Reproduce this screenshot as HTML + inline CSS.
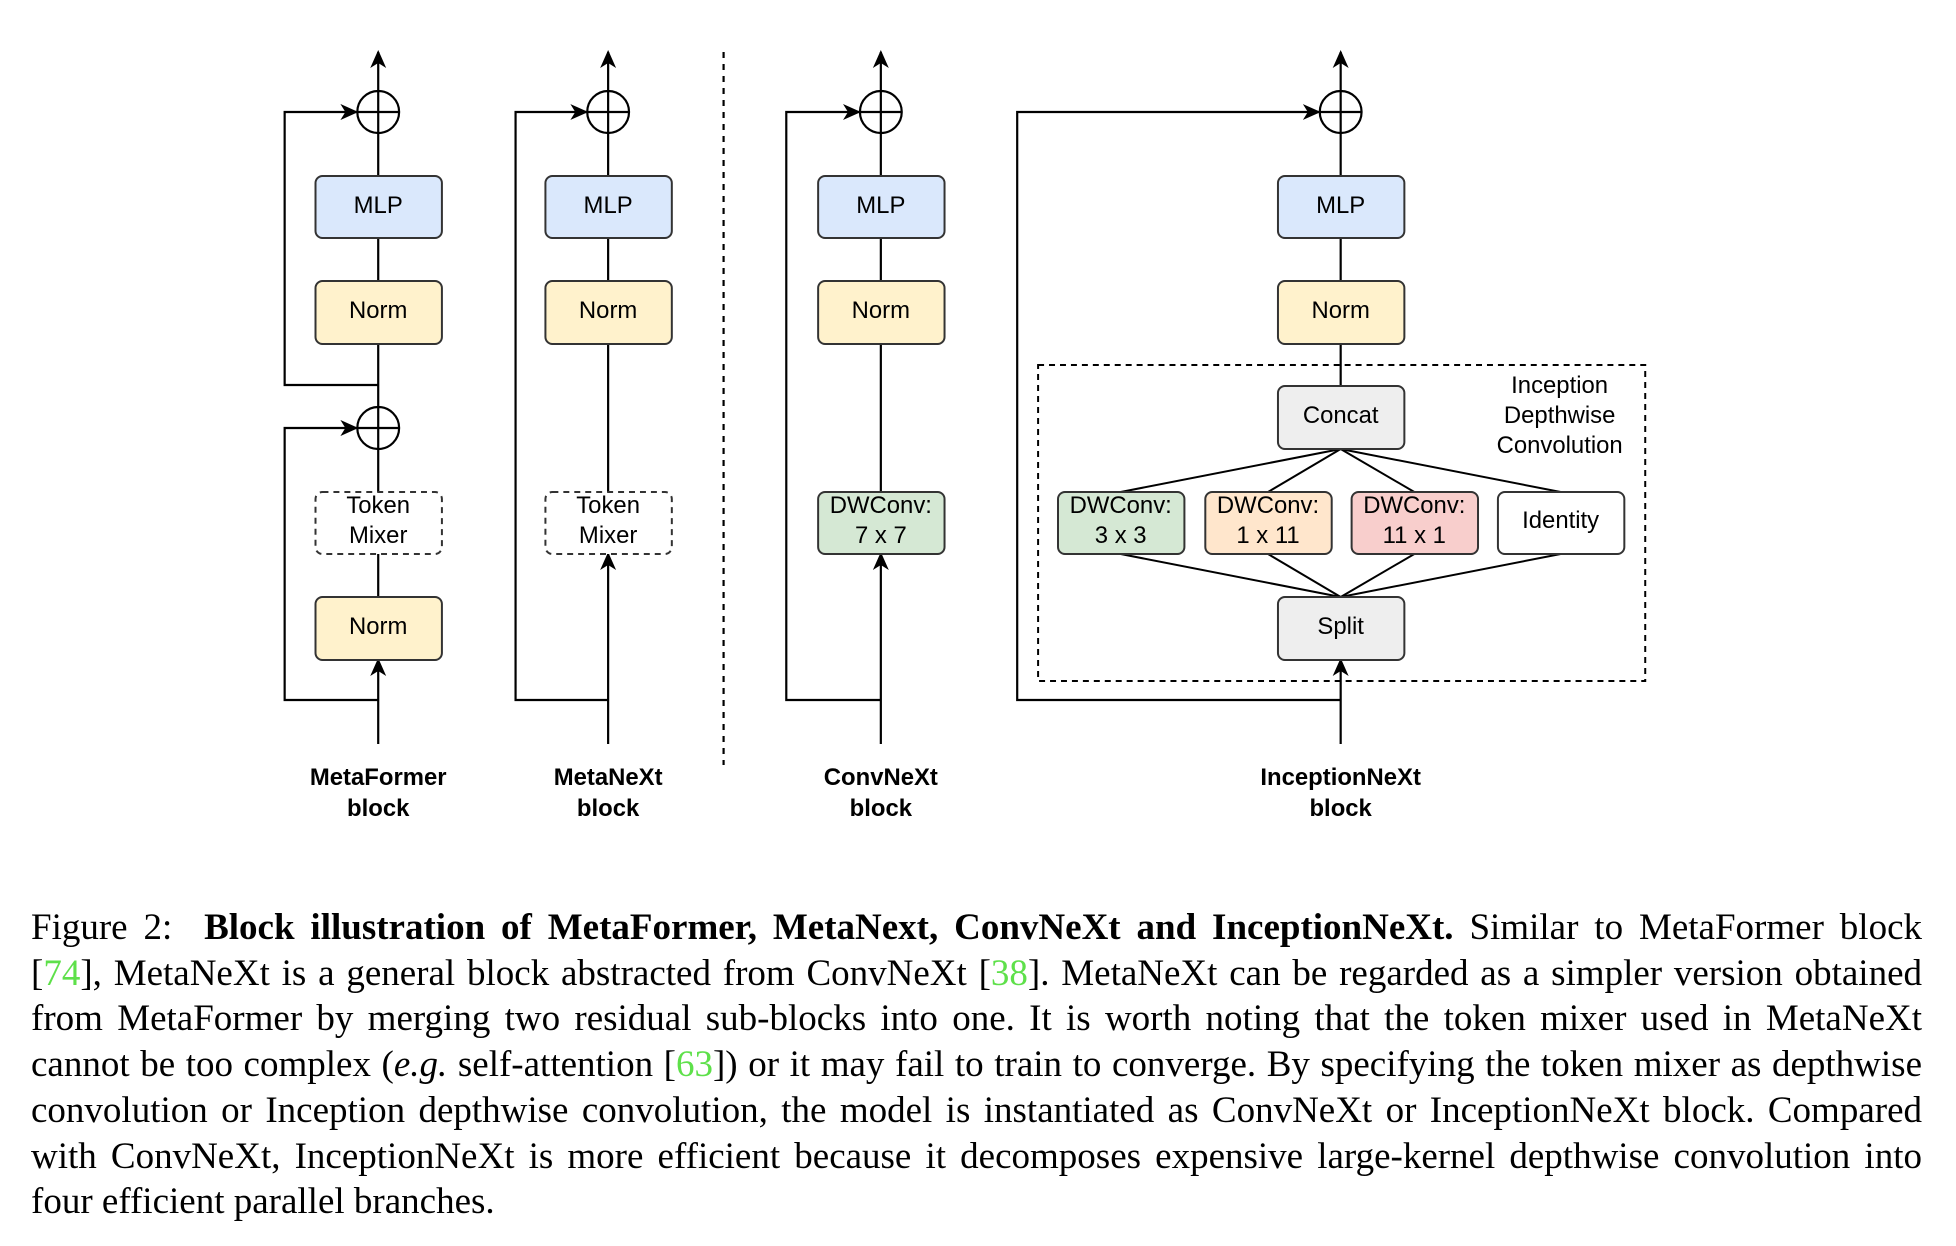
<!DOCTYPE html>
<html><head><meta charset="utf-8"><style>
body{margin:0;width:1956px;height:1246px;background:#fff;position:relative;overflow:hidden}
svg{position:absolute;left:0;top:0}
.cap{position:absolute;left:31px;top:905px;width:1891px;font-family:"Liberation Serif",serif;font-size:37px;line-height:45.7px;color:#000}
.cap div{text-align:justify;text-align-last:justify;white-space:nowrap;overflow:visible}
.cap div.l{text-align-last:left}
.g{color:#5ee04a}
</style></head><body>
<svg width="1956" height="900" viewBox="0 0 1956 900" font-family="Liberation Sans, sans-serif">
<defs>
<marker id="b" markerWidth="18" markerHeight="18" refX="16" refY="9" orient="auto" markerUnits="userSpaceOnUse" viewBox="0 0 18 18"><path d="M0,1 L18,9 L0,17 L5,9z" fill="#000"/></marker></defs>
<g transform="scale(0.9953,1)">
<g stroke="#000" stroke-width="2.2" fill="none">
<line x1="380" y1="744" x2="380" y2="660" marker-end="url(#b)"/>
<line x1="380" y1="597" x2="380" y2="554"/>
<line x1="380" y1="492" x2="380" y2="344"/>
<line x1="380" y1="281" x2="380" y2="238"/>
<line x1="380" y1="176" x2="380" y2="52" marker-end="url(#b)"/>
<polyline points="380,700 286,700 286,428 358,428" marker-end="url(#b)"/>
<polyline points="380,385 286,385 286,112 358,112" marker-end="url(#b)"/>
<circle cx="380" cy="112" r="21" fill="#fff"/><line x1="359" y1="112" x2="401" y2="112"/><line x1="380" y1="91" x2="380" y2="133"/>
<circle cx="380" cy="428" r="21" fill="#fff"/><line x1="359" y1="428" x2="401" y2="428"/><line x1="380" y1="407" x2="380" y2="449"/>
<line x1="611" y1="744" x2="611" y2="554" marker-end="url(#b)"/>
<line x1="611" y1="492" x2="611" y2="344"/>
<line x1="611" y1="281" x2="611" y2="238"/>
<line x1="611" y1="176" x2="611" y2="52" marker-end="url(#b)"/>
<polyline points="611,700 518,700 518,112 589,112" marker-end="url(#b)"/>
<circle cx="611" cy="112" r="21" fill="#fff"/><line x1="590" y1="112" x2="632" y2="112"/><line x1="611" y1="91" x2="611" y2="133"/>
<line x1="727" y1="52" x2="727" y2="765" stroke-dasharray="6,6"/>
<line x1="885" y1="744" x2="885" y2="554" marker-end="url(#b)"/>
<line x1="885" y1="492" x2="885" y2="344"/>
<line x1="885" y1="281" x2="885" y2="238"/>
<line x1="885" y1="176" x2="885" y2="52" marker-end="url(#b)"/>
<polyline points="885,700 790,700 790,112 863,112" marker-end="url(#b)"/>
<circle cx="885" cy="112" r="21" fill="#fff"/><line x1="864" y1="112" x2="906" y2="112"/><line x1="885" y1="91" x2="885" y2="133"/>
<line x1="1347" y1="744" x2="1347" y2="660" marker-end="url(#b)"/>
<line x1="1347" y1="386" x2="1347" y2="344"/>
<line x1="1347" y1="281" x2="1347" y2="238"/>
<line x1="1347" y1="176" x2="1347" y2="52" marker-end="url(#b)"/>
<polyline points="1347,700 1022,700 1022,112 1325,112" marker-end="url(#b)"/>
<circle cx="1347" cy="112" r="21" fill="#fff"/><line x1="1326" y1="112" x2="1368" y2="112"/><line x1="1347" y1="91" x2="1347" y2="133"/>
<rect x="1043" y="365" width="610" height="316" stroke-dasharray="6,5" stroke-width="2"/>
<g stroke-width="2">
<line x1="1347" y1="449" x2="1126" y2="492"/><line x1="1347" y1="449" x2="1274" y2="492"/><line x1="1347" y1="449" x2="1421" y2="492"/><line x1="1347" y1="449" x2="1568" y2="492"/>
<line x1="1347" y1="597" x2="1126" y2="554"/><line x1="1347" y1="597" x2="1274" y2="554"/><line x1="1347" y1="597" x2="1421" y2="554"/><line x1="1347" y1="597" x2="1568" y2="554"/>
</g>
</g>
<g stroke="#333" stroke-width="2">
<rect x="317" y="176" width="127" height="62" rx="7" fill="#dae8fc"/>
<rect x="317" y="281" width="127" height="63" rx="7" fill="#fff2cc"/>
<rect x="317" y="492" width="127" height="62" rx="7" fill="#fff" stroke-dasharray="6,5"/>
<rect x="317" y="597" width="127" height="63" rx="7" fill="#fff2cc"/>
<rect x="548" y="176" width="127" height="62" rx="7" fill="#dae8fc"/>
<rect x="548" y="281" width="127" height="63" rx="7" fill="#fff2cc"/>
<rect x="548" y="492" width="127" height="62" rx="7" fill="#fff" stroke-dasharray="6,5"/>
<rect x="822" y="176" width="127" height="62" rx="7" fill="#dae8fc"/>
<rect x="822" y="281" width="127" height="63" rx="7" fill="#fff2cc"/>
<rect x="822" y="492" width="127" height="62" rx="7" fill="#d5e8d4"/>
<rect x="1284" y="176" width="127" height="62" rx="7" fill="#dae8fc"/>
<rect x="1284" y="281" width="127" height="63" rx="7" fill="#fff2cc"/>
<rect x="1284" y="386" width="127" height="63" rx="7" fill="#eeeeee"/>
<rect x="1284" y="597" width="127" height="63" rx="7" fill="#eeeeee"/>
<rect x="1063" y="492" width="127" height="62" rx="7" fill="#d5e8d4"/>
<rect x="1211" y="492" width="127" height="62" rx="7" fill="#ffe6cc"/>
<rect x="1358" y="492" width="127" height="62" rx="7" fill="#f8cecc"/>
<rect x="1505" y="492" width="127" height="62" rx="7" fill="#fff"/>
</g>
<g font-size="24" text-anchor="middle" fill="#000">
<text x="380" y="213">MLP</text><text x="380" y="318">Norm</text><text x="380" y="513">Token</text><text x="380" y="543">Mixer</text><text x="380" y="634">Norm</text>
<text x="611" y="213">MLP</text><text x="611" y="318">Norm</text><text x="611" y="513">Token</text><text x="611" y="543">Mixer</text>
<text x="885" y="213">MLP</text><text x="885" y="318">Norm</text><text x="885" y="513">DWConv:</text><text x="885" y="543">7 x 7</text>
<text x="1347" y="213">MLP</text><text x="1347" y="318">Norm</text><text x="1347" y="423">Concat</text><text x="1347" y="634">Split</text>
<text x="1126" y="513">DWConv:</text><text x="1126" y="543">3 x 3</text>
<text x="1274" y="513">DWConv:</text><text x="1274" y="543">1 x 11</text>
<text x="1421" y="513">DWConv:</text><text x="1421" y="543">11 x 1</text>
<text x="1568" y="528">Identity</text>
<text x="1567" y="393">Inception</text><text x="1567" y="423">Depthwise</text><text x="1567" y="453">Convolution</text>
<g font-weight="bold"><text x="380" y="785">MetaFormer</text><text x="380" y="816">block</text>
<text x="611" y="785">MetaNeXt</text><text x="611" y="816">block</text>
<text x="885" y="785">ConvNeXt</text><text x="885" y="816">block</text>
<text x="1347" y="785">InceptionNeXt</text><text x="1347" y="816">block</text></g>
</g>
</g>
</svg>
<div class="cap">
<div>Figure 2:&nbsp; <b>Block illustration of MetaFormer, MetaNext, ConvNeXt and InceptionNeXt.</b> Similar to MetaFormer block</div>
<div>[<span class="g">74</span>], MetaNeXt is a general block abstracted from ConvNeXt [<span class="g">38</span>]. MetaNeXt can be regarded as a simpler version obtained</div>
<div>from MetaFormer by merging two residual sub-blocks into one. It is worth noting that the token mixer used in MetaNeXt</div>
<div>cannot be too complex (<i>e.g.</i> self-attention [<span class="g">63</span>]) or it may fail to train to converge. By specifying the token mixer as depthwise</div>
<div>convolution or Inception depthwise convolution, the model is instantiated as ConvNeXt or InceptionNeXt block. Compared</div>
<div>with ConvNeXt, InceptionNeXt is more efficient because it decomposes expensive large-kernel depthwise convolution into</div>
<div class="l">four efficient parallel branches.</div>
</div>
</body></html>
